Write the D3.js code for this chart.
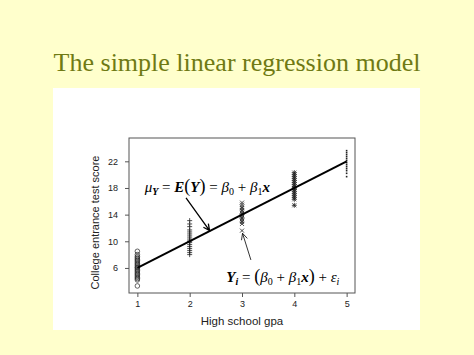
<!DOCTYPE html>
<html>
<head>
<meta charset="utf-8">
<script src="https://cdn.jsdelivr.net/npm/d3@7"></script>
<style>
  html, body { margin: 0; padding: 0; background: #ffffcc; }
  svg { display: block; }
</style>
</head>
<body>
<div id="chart"></div>
<script>
// gpa groups and the scores read at each
const gpaLevels = [1, 2, 3, 4, 5];
const scores1 = [8.5, 8.0, 7.7, 7.5, 7.3, 7.1, 6.9, 6.7, 6.5, 6.3, 6.1, 6.0, 5.8, 5.6, 5.4, 5.2, 5.0, 4.8, 4.6, 4.4, 4.2, 3.3];
const scores2 = [13.1, 12.6, 12.2, 11.7, 11.4, 11.1, 10.8, 10.5, 10.2, 10.0, 9.8, 9.5, 9.2, 8.9, 8.6, 8.3, 8.0];
const scores3 = [15.8, 15.5, 15.2, 15.0, 14.7, 14.5, 14.3, 14.1, 13.9, 13.7, 13.5, 13.3, 13.1, 12.9, 12.6, 11.6];
const scores4 = [20.3, 20.0, 19.7, 19.4, 19.1, 18.8, 18.5, 18.2, 18.0, 17.8, 17.5, 17.2, 16.9, 16.6, 16.3, 15.4];
const scores5 = [23.6, 23.3, 23.0, 22.7, 22.4, 22.1, 21.8, 21.5, 21.2, 20.9, 20.6, 20.2, 19.7];
const yTicks = [6, 10, 14, 18, 22];
// regression line: E(Y) = b0 + b1 x
const beta0 = 2;
const beta1 = 4;

const width = 474, height = 355;
const svg = d3.select("#chart").append("svg")
  .attr("width", width)
  .attr("height", height);

svg.append("rect").attr("width", width).attr("height", height).attr("fill", "#ffffcc");

svg.append("text")
  .attr("x", 237)
  .attr("y", 71)
  .attr("text-anchor", "middle")
  .style("font-family", "'Liberation Serif', 'Times New Roman', serif")
  .style("font-size", "26px")
  .style("fill", "#6f7a14")
  .text("The simple linear regression model");

// white picture panel
svg.append("rect")
  .attr("x", 53).attr("y", 88)
  .attr("width", 367).attr("height", 242)
  .attr("fill", "#fff");

const box = { left: 129, right: 355, top: 138, bottom: 293 };

const x = d3.scaleLinear().domain([0.84, 5.16]).range([box.left, box.right]);
const y = d3.scaleLinear().domain([2.24, 25.5]).range([box.bottom, box.top]);

const g = svg.append("g");

g.append("rect")
  .attr("x", box.left).attr("y", box.top)
  .attr("width", box.right - box.left).attr("height", box.bottom - box.top)
  .attr("fill", "none")
  .attr("stroke", "#555")
  .attr("stroke-width", 1);

const sans = "'Liberation Sans', Arial, Helvetica, sans-serif";

const xAxis = g.append("g")
  .attr("transform", `translate(0,${box.bottom})`)
  .call(d3.axisBottom(x).tickValues(gpaLevels).tickFormat(d3.format("d")).tickSize(4).tickPadding(4));
const yAxis = g.append("g")
  .attr("transform", `translate(${box.left},0)`)
  .call(d3.axisLeft(y).tickValues(yTicks).tickSize(4).tickPadding(7));
[xAxis, yAxis].forEach(a => {
  a.select(".domain").remove();
  a.selectAll("line").attr("stroke", "#555");
  a.selectAll("text").style("font-family", sans).style("font-size", "9px").style("fill", "#222");
});

g.append("text")
  .attr("x", (box.left + box.right) / 2)
  .attr("y", 325)
  .attr("text-anchor", "middle")
  .style("font-family", sans)
  .style("font-size", "11.5px")
  .style("fill", "#222")
  .text("High school gpa");

g.append("text")
  .attr("transform", `translate(99,${(box.top + box.bottom) / 2 + 7}) rotate(-90)`)
  .attr("text-anchor", "middle")
  .style("font-family", sans)
  .style("font-size", "11px")
  .style("fill", "#222")
  .text("College entrance test score");

// points
const pts = g.append("g").attr("stroke", "#222").attr("fill", "none");

pts.selectAll(".p1").data(scores1).join("circle")
  .attr("cx", x(1)).attr("cy", d => y(d)).attr("r", 2.3)
  .attr("stroke-width", 0.7);

pts.selectAll(".p2").data(scores2).join("path")
  .attr("d", d => `M${x(2) - 2.5},${y(d)}h5M${x(2)},${y(d) - 2.5}v5`)
  .attr("stroke-width", 0.8);

pts.selectAll(".p3").data(scores3).join("path")
  .attr("d", d => `M${x(3) - 2},${y(d) - 2}l4,4M${x(3) - 2},${y(d) + 2}l4,-4`)
  .attr("stroke-width", 0.8);

pts.selectAll(".p4").data(scores4).join("path")
  .attr("d", d => `M${x(4) - 2.5},${y(d)}h5M${x(4)},${y(d) - 2.5}v5M${x(4) - 2},${y(d) - 2}l4,4M${x(4) - 2},${y(d) + 2}l4,-4`)
  .attr("stroke-width", 0.8);

pts.selectAll(".p5").data(scores5).join("rect")
  .attr("x", x(5) - 0.8).attr("y", d => y(d) - 0.8)
  .attr("width", 1.6).attr("height", 1.6)
  .attr("fill", "#222").attr("stroke", "none");

// fitted line
g.append("line")
  .attr("x1", x(1)).attr("y1", y(beta0 + beta1 * 1))
  .attr("x2", x(5)).attr("y2", y(beta0 + beta1 * 5))
  .attr("stroke", "#000")
  .attr("stroke-width", 2);

// arrows
function arrow(x0, y0, x1, y1, w, len) {
  const px0 = x(x0), py0 = y(y0), px1 = x(x1), py1 = y(y1);
  const ang = Math.atan2(py1 - py0, px1 - px0);
  const a1 = ang + Math.PI - 0.45, a2 = ang + Math.PI + 0.45;
  g.append("path")
    .attr("d", `M${px0},${py0}L${px1},${py1}` +
      `M${px1 + len * Math.cos(a1)},${py1 + len * Math.sin(a1)}L${px1},${py1}L${px1 + len * Math.cos(a2)},${py1 + len * Math.sin(a2)}`)
    .attr("fill", "none")
    .attr("stroke", "#000")
    .attr("stroke-width", w);
}
arrow(1.93, 16.5, 2.38, 11.6, 1.3, 7);
arrow(3.17, 7.2, 3.01, 11.2, 0.8, 7);

// equations
const serif = "'Liberation Serif', 'Times New Roman', serif";
function equation(px, py, parts) {
  const t = g.append("text")
    .attr("x", px).attr("y", py)
    .style("font-family", serif)
    .style("font-size", "15px")
    .style("fill", "#000");
  parts.forEach(p => {
    const s = t.append("tspan").text(p.t);
    if (p.i) s.style("font-style", "italic");
    if (p.b) s.style("font-weight", "bold");
    if (p.sub) s.style("font-size", "10px").attr("dy", 3);
    if (p.up) s.attr("dy", -3);
    if (p.big) s.style("font-size", "18px");
  });
}

equation(x(1.14), y(17.35), [
  { t: "μ", i: true },
  { t: "Y", i: true, b: true, sub: true },
  { t: " = ", up: true },
  { t: "E", i: true, b: true },
  { t: "(", big: true },
  { t: "Y", i: true, b: true },
  { t: ")", big: true },
  { t: " = " },
  { t: "β", i: true },
  { t: "0", sub: true },
  { t: " + ", up: true },
  { t: "β", i: true },
  { t: "1", sub: true },
  { t: "x", i: true, b: true, up: true }
]);

equation(x(2.7), y(3.85), [
  { t: "Y", i: true, b: true },
  { t: "i", i: true, b: true, sub: true },
  { t: " = ", up: true },
  { t: "(", big: true },
  { t: "β", i: true },
  { t: "0", sub: true },
  { t: " + ", up: true },
  { t: "β", i: true },
  { t: "1", sub: true },
  { t: "x", i: true, b: true, up: true },
  { t: ")", big: true },
  { t: " + " },
  { t: "ε", i: true },
  { t: "i", i: true, sub: true }
]);
</script>
</body>
</html>
